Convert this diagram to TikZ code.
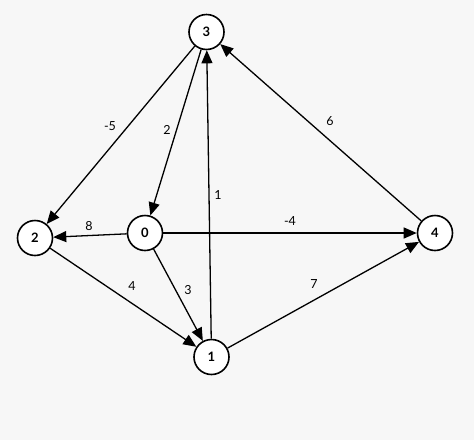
\documentclass[tikz,border=0pt]{standalone}
\usepackage{fontspec}
\setmainfont{Lato}
\usetikzlibrary{arrows.meta}
\definecolor{bgc}{HTML}{F7F7F7}
\tikzset{
  vert/.style={circle,draw=black,line width=1.6pt,fill=white,minimum size=35pt,inner sep=0pt,font=\fontsize{13}{15}\selectfont\bfseries},
  edge/.style={line width=1.3pt,-{Triangle[length=13pt,width=11pt]}},
  wlab/.style={font=\fontsize{12.5}{14}\selectfont,inner sep=0pt}
}
\begin{document}
\begin{tikzpicture}[x=1pt,y=-1pt]
\fill[bgc] (0,0) rectangle (474,440);
\useasboundingbox (0,0) rectangle (474,440);
\node[vert] (n3) at (206.5,32) {3};
\node[vert] (n0) at (145,233) {0};
\node[vert] (n2) at (35,238) {2};
\node[vert] (n4) at (435,233) {4};
\node[vert] (n1) at (211.5,357) {1};
\draw[edge] (n3) -- (n2);
\draw[edge] (n3) -- (n0);
\draw[edge] (n1) -- (n3);
\draw[edge] (n4) -- (n3);
\draw[edge] (n0) -- (n2);
\draw[edge] (n0) -- (n4);
\draw[edge] (n2) -- (n1);
\draw[edge] (n0) -- (n1);
\draw[edge] (n1) -- (n4);
\node[wlab] (l32) at (110,126) {-5};
\node[wlab] (l30) at (167,130) {2};
\node[wlab] (l13) at (218,195) {1};
\node[wlab] (l43) at (330,121) {6};
\node[wlab] (l02) at (89,226) {8};
\node[wlab] (l04) at (290,221) {-4};
\node[wlab] (l21) at (132,286) {4};
\node[wlab] (l01) at (188,290) {3};
\node[wlab] (l14) at (314,284) {7};
\end{tikzpicture}
\end{document}
